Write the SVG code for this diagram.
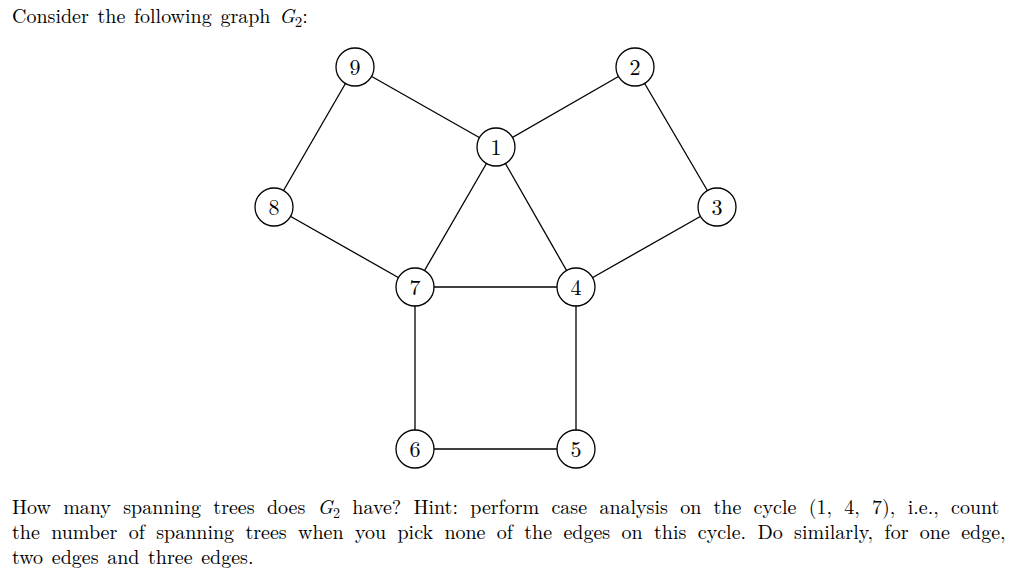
<svg xmlns="http://www.w3.org/2000/svg" width="1024" height="586" viewBox="0 0 1024 586">
<style>
text{font-family:"Latin Modern Roman","Liberation Serif",serif;fill:#000}
.t{font-size:20px}
.n circle{fill:#fff;stroke:#000;stroke-width:1.3}
.n text{font-size:22px;text-anchor:middle}
#edges line{stroke:#000;stroke-width:1.3}
</style>
<rect width="1024" height="586" fill="#fff"/>
<text class="t" x="12" y="23" font-size="21" word-spacing="2">Consider the following graph <tspan font-style="italic">G</tspan><tspan font-size="15" dy="4">2</tspan><tspan dy="-4">:</tspan></text>
<g id="edges">
<line x1="355" y1="67" x2="496" y2="147"/>
<line x1="635" y1="67" x2="496" y2="147"/>
<line x1="355" y1="67" x2="274" y2="207"/>
<line x1="635" y1="67" x2="717" y2="207"/>
<line x1="274" y1="207" x2="415" y2="287"/>
<line x1="717" y1="207" x2="576" y2="287"/>
<line x1="496" y1="147" x2="415" y2="287"/>
<line x1="496" y1="147" x2="576" y2="287"/>
<line x1="415" y1="287" x2="576" y2="287"/>
<line x1="415" y1="287" x2="415" y2="449"/>
<line x1="576" y1="287" x2="576" y2="449"/>
<line x1="415" y1="449" x2="576" y2="449"/>
</g>
<g id="n9" class="n"><circle cx="355" cy="67" r="19"/><text x="355" y="75">9</text></g>
<g id="n2" class="n"><circle cx="635" cy="67" r="19"/><text x="635" y="75">2</text></g>
<g id="n1" class="n"><circle cx="496" cy="147" r="19"/><text x="496" y="155">1</text></g>
<g id="n8" class="n"><circle cx="274" cy="207" r="19"/><text x="274" y="215">8</text></g>
<g id="n3" class="n"><circle cx="717" cy="207" r="19"/><text x="717" y="215">3</text></g>
<g id="n7" class="n"><circle cx="415" cy="287" r="19"/><text x="415" y="295">7</text></g>
<g id="n4" class="n"><circle cx="576" cy="287" r="19"/><text x="576" y="295">4</text></g>
<g id="n6" class="n"><circle cx="415" cy="449" r="19"/><text x="415" y="457">6</text></g>
<g id="n5" class="n"><circle cx="576" cy="449" r="19"/><text x="576" y="457">5</text></g>
<text class="t" x="12" y="514" word-spacing="5.6">How many spanning trees does <tspan font-style="italic">G</tspan><tspan font-size="14" dy="4">2</tspan><tspan dy="-4"> have? Hint: perform case analysis on the cycle (1, 4, 7), i.e., count</tspan></text>
<text class="t" x="12" y="539" word-spacing="4.7">the number of spanning trees when you pick none of the edges on this cycle. Do similarly, for one edge,</text>
<text class="t" x="12" y="564" word-spacing="2">two edges and three edges.</text>
</svg>
